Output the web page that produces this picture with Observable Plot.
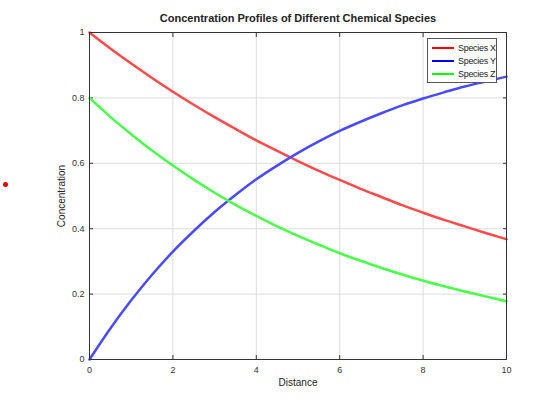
<!DOCTYPE html>
<html>
<head>
<meta charset="utf-8">
<script src="https://cdn.jsdelivr.net/npm/d3@7"></script>
<script src="https://cdn.jsdelivr.net/npm/@observablehq/plot@0.6"></script>
<style>
  body { margin: 0; background: #fff; font-family: "Liberation Sans", Arial, sans-serif; }
  #wrap { position: relative; width: 553px; height: 400px; }
  #legend { position: absolute; left: 427px; top: 38px; width: 68px; border: 1px solid #555;
            background: #fff; font-size: 9px; padding: 2px 0; color: #222; }
  #legend div { display: flex; align-items: center; height: 13px; letter-spacing: -0.3px; }
  #legend span.ln { display: inline-block; width: 22px; height: 2px; margin: 0 4px 0 4px; }
  #dot { position: absolute; left: 3px; top: 182px; width: 5px; height: 5px; border-radius: 50%; background: #e00; }
</style>
</head>
<body>
<div id="wrap"><div id="dot"></div></div>
<script>
const distance = [0, 0.5, 1, 1.5, 2, 2.5, 3, 3.5, 4, 4.5, 5, 5.5, 6, 6.5, 7, 7.5, 8, 8.5, 9, 9.5, 10];
const speciesX = [1, .951, .905, .861, .819, .779, .741, .705, .670, .638, .607, .577, .549, .522, .497, .472, .449, .427, .407, .387, .368];
const speciesY = [0, .095, .181, .259, .330, .393, .451, .503, .551, .593, .632, .667, .699, .727, .753, .777, .798, .817, .835, .850, .865];
const speciesZ = [.8, .742, .689, .639, .593, .550, .510, .473, .439, .407, .378, .351, .325, .302, .280, .260, .241, .224, .208, .193, .178];
const seriesNames = ["Species X", "Species Y", "Species Z"];
const lineColors = ["#ff4a4a", "#4a4aff", "#4aff4a"];
const legendColors = ["#ff0000", "#0000ff", "#00ff00"];
const xTicks = [0, 2, 4, 6, 8, 10];
const yTicks = [0, 0.2, 0.4, 0.6, 0.8, 1];

const rows = [];
[speciesX, speciesY, speciesZ].forEach((vals, i) => {
  vals.forEach((v, j) => rows.push({ series: seriesNames[i], x: distance[j], y: v }));
});

const chart = Plot.plot({
  width: 553,
  height: 400,
  marginLeft: 89,
  marginRight: 47,
  marginTop: 32,
  marginBottom: 41,
  style: { fontFamily: "Liberation Sans, Arial, sans-serif", fontSize: "9px", color: "#333" },
  x: { domain: [0, 10] },
  y: { domain: [0, 1] },
  color: { domain: seriesNames, range: lineColors },
  marks: [
    Plot.gridX(xTicks, { stroke: "#dcdcdc", strokeOpacity: 1 }),
    Plot.gridY(yTicks, { stroke: "#dcdcdc", strokeOpacity: 1 }),
    Plot.axisX(xTicks, { tickSize: -4, tickPadding: 11, tickFormat: d => String(d), label: null }),
    Plot.axisX(xTicks, { anchor: "top", tickSize: -4, tickFormat: () => "", label: null }),
    Plot.axisY(yTicks, { tickSize: -4, tickPadding: 9, tickFormat: d => String(d), label: null }),
    Plot.axisY(yTicks, { anchor: "right", tickSize: -4, tickFormat: () => "", label: null }),
    Plot.line(rows, { x: "x", y: "y", stroke: "series", strokeWidth: 2.5, curve: "monotone-x" }),
    Plot.frame({ stroke: "#333" }),
    Plot.text(["Concentration Profiles of Different Chemical Species"], { frameAnchor: "top", dy: -18, fontWeight: "bold", fontSize: 11, fill: "#222" }),
    Plot.text(["Distance"], { frameAnchor: "bottom", dy: 26, fontSize: 10, fill: "#222" }),
    Plot.text(["Concentration"], { frameAnchor: "left", textAnchor: "middle", dx: -28, rotate: -90, fontSize: 10, fill: "#222" })
  ]
});

const wrap = document.getElementById("wrap");
wrap.appendChild(chart);

const legend = document.createElement("div");
legend.id = "legend";
seriesNames.forEach((name, i) => {
  const row = document.createElement("div");
  row.innerHTML = `<span class="ln" style="background:${legendColors[i]}"></span>${name}`;
  legend.appendChild(row);
});
wrap.appendChild(legend);
</script>
</body>
</html>
